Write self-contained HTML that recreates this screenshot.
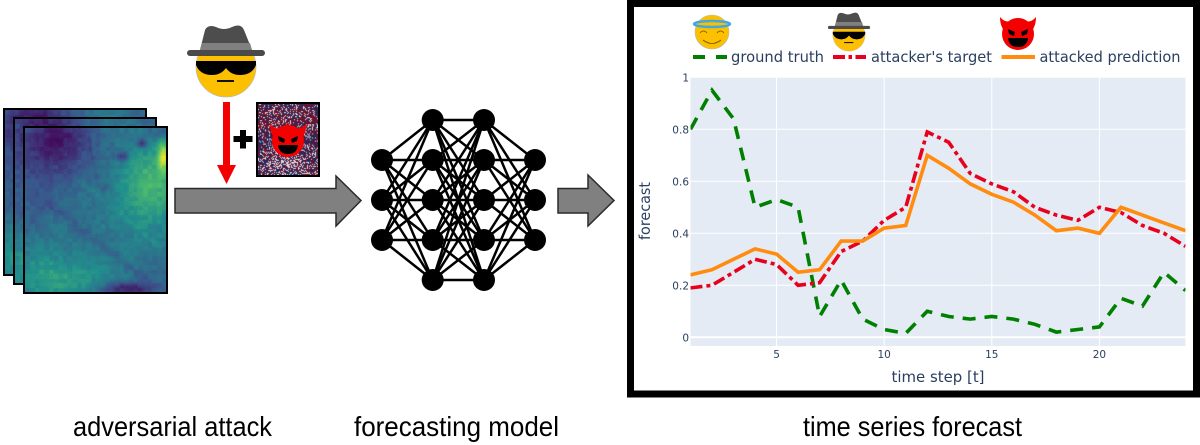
<!DOCTYPE html>
<html lang="en">
<head>
<meta charset="utf-8">
<title>Adversarial attack on time series forecast</title>
<style>
html,body{margin:0;padding:0;background:#fff;}
body{position:relative;width:1200px;height:445px;overflow:hidden;font-family:"Liberation Sans",sans-serif;}
#diagram{position:absolute;left:0;top:0;}
canvas{position:absolute;display:block;box-sizing:border-box;border:2px solid #000;}
</style>
</head>
<body>
<canvas id="map-back" width="140" height="164" style="left:3px;top:108px;width:144px;height:168px"></canvas>
<canvas id="map-mid" width="140" height="164" style="left:13px;top:117px;width:144px;height:168px"></canvas>
<canvas id="map-front" width="140" height="164" style="left:23px;top:126px;width:145px;height:168px"></canvas>
<svg id="diagram" width="1200" height="445" viewBox="0 0 1200 445" xmlns="http://www.w3.org/2000/svg" style="pointer-events:none">
  <defs>
    <g id="agent-shape">
      <circle cx="226" cy="67" r="30" fill="#fdc000" stroke="#b9b9b9" stroke-width=".7"/>
      <path d="M200 50 L205 30 Q208 24 216 27 Q224 31 232 27 Q241 23 244 30 L252 50 Z" fill="#4d4d4d"/>
      <path d="M202 43 L250 43 L252 50 L200 50 Z" fill="#808080"/>
      <rect x="187" y="50" width="78" height="6" rx="3" fill="#4a4a4a"/>
      <path d="M196 61 H256 V65 Q252 75 240 75 Q231 75 226 68 Q221 75 212 75 Q200 75 196 65 Z" fill="#000"/>
      <rect x="217" y="80" width="17" height="2" fill="#111"/>
    </g>
    <g id="devil-shape">
      <path d="M-18 -16 Q-18 -6 -12 0 L12 0 Q18 -6 18 -16 Q13 -10 7 -12 L-7 -12 Q-13 -10 -18 -16 Z" fill="#f40000"/>
      <circle cx="0" cy="1" r="16" fill="#f40000"/>
      <path d="M-10 -4 L-3 -1 L-4 3 L-9 1 Z M10 -4 L3 -1 L4 3 L9 1 Z" fill="#000"/>
      <path d="M-10 5 H10 Q9 14 0 14 Q-9 14 -10 5 Z" fill="#000"/>
    </g>
  </defs>

  <use href="#agent-shape"/>

  <g>
    <rect x="223" y="102" width="7" height="64" fill="#f40000"/>
    <path d="M217 165 H236 L226.500 184 Z" fill="#f40000"/>
  </g>
  <path d="M240 130 h6 v6 h6.500 v6 h-6.500 v6.500 h-6 v-6.500 h-6.500 v-6 h6.500 z" fill="#000"/>

  <g>
    <path d="M175 188.500 H336 V176 L361 200.500 L336 226 V213 H175 Z" fill="#808080" stroke="#2a2a2a" stroke-width="1.500"/>
  </g>
  <g id="network"></g>
  <g>
    <path d="M558 188.500 H588 V175 L614 200.500 L588 226 V213 H558 Z" fill="#808080" stroke="#2a2a2a" stroke-width="1.500"/>
  </g>

  <text x="73" y="436" font-size="28" textLength="199" lengthAdjust="spacingAndGlyphs" fill="#000" font-family="'Liberation Sans',sans-serif">adversarial attack</text>
  <text x="354" y="436" font-size="28" textLength="205" lengthAdjust="spacingAndGlyphs" fill="#000" font-family="'Liberation Sans',sans-serif">forecasting model</text>
  <text x="803" y="436" font-size="28" textLength="219" lengthAdjust="spacingAndGlyphs" fill="#000" font-family="'Liberation Sans',sans-serif">time series forecast</text>

  <rect x="630.500" y="3.500" width="566" height="390.500" fill="#fff" stroke="#000" stroke-width="7"/>

  <g>
    <circle cx="712" cy="32" r="17" fill="#fdc000" stroke="#b9b9b9" stroke-width=".6"/>
    <ellipse cx="712" cy="24" rx="18" ry="3" fill="none" stroke="#3fa9e0" stroke-width="2.500"/>
    <path d="M700 33 Q703.500 29 707 33 M717 33 Q720.500 29 724 33 M703 40 Q712 47 721 40" fill="none" stroke="#6b5200" stroke-width=".8"/>
  </g>
  <use href="#agent-shape" transform="translate(849,35) scale(.54) translate(-226,-67)"/>
  <use href="#devil-shape" transform="translate(1018,33)"/>

  <g id="chart" font-family="'DejaVu Sans',sans-serif"></g>

  <g font-family="'DejaVu Sans',sans-serif" font-size="15.500" fill="#2a3f5f">
    <g>
      <path d="M693 57 H727" stroke="#008000" stroke-width="4" stroke-dasharray="12 11" fill="none"/>
      <text x="731" y="62" textLength="93" lengthAdjust="spacingAndGlyphs">ground truth</text>
    </g>
    <g>
      <path d="M833 57 H866" stroke="#e8001c" stroke-width="4" stroke-dasharray="12 3.500 3.500 3.500" fill="none"/>
      <text x="871" y="62" textLength="121" lengthAdjust="spacingAndGlyphs">attacker's target</text>
    </g>
    <g>
      <path d="M1001.500 57 H1035" stroke="#ff8c0f" stroke-width="4" fill="none"/>
      <text x="1039.500" y="62" textLength="141" lengthAdjust="spacingAndGlyphs">attacked prediction</text>
    </g>
  </g>
</svg>

<canvas id="noise" width="60" height="70" style="left:256px;top:102px;width:64px;height:75px"></canvas>
<svg width="64" height="75" viewBox="256 102 64 75" style="position:absolute;left:256px;top:102px">
  <use href="#devil-shape" transform="translate(288,140)"/>
</svg>

<script>
// ---------- chart data ----------
const timeSteps = [1,2,3,4,5,6,7,8,9,10,11,12,13,14,15,16,17,18,19,20,21,22,23,24];
const groundTruth = [0.80,0.95,0.84,0.50,0.53,0.50,0.08,0.22,0.07,0.03,0.015,0.10,0.08,0.07,0.08,0.07,0.05,0.02,0.03,0.04,0.15,0.12,0.25,0.18];
const attackerTarget = [0.19,0.20,0.25,0.30,0.28,0.20,0.21,0.33,0.37,0.45,0.50,0.79,0.75,0.63,0.59,0.56,0.50,0.47,0.45,0.50,0.48,0.43,0.40,0.35];
const attackedPrediction = [0.24,0.26,0.30,0.34,0.32,0.25,0.26,0.37,0.37,0.42,0.43,0.70,0.65,0.59,0.55,0.52,0.47,0.41,0.42,0.40,0.50,0.47,0.44,0.41];
const xTicks = [5,10,15,20];
const yTicks = [0,0.2,0.4,0.6,0.8,1];
const yTickLabels = ['0','0.2','0.4','0.6','0.8','1'];

const NS = 'http://www.w3.org/2000/svg';
function mk(tag, attrs, parent){
  const el = document.createElementNS(NS, tag);
  for (const k in attrs) el.setAttribute(k, attrs[k]);
  parent.appendChild(el);
  return el;
}
const plot = {left:690.5, right:1185.5, top:77, bottom:346};
const xScale = v => plot.left + (v - 1) * (plot.right - plot.left) / 23;
const yScale = v => 337.3 - v * 260;

const chart = document.getElementById('chart');
const bg = mk('rect', {x:plot.left, y:plot.top, width:plot.right-plot.left, height:plot.bottom-plot.top, fill:'#e4ebf5'}, chart);



xTicks.forEach(t => {
  const g = mk('line', {x1:xScale(t), x2:xScale(t), y1:plot.top, y2:plot.bottom, stroke:'#fff', 'stroke-width':1}, chart);
  
  
  const l = mk('text', {x:xScale(t), y:358, 'text-anchor':'middle', 'font-size':10.5, fill:'#2a3f5f'}, chart);
  l.textContent = t;
  
  
});
yTicks.forEach((t, i) => {
  const g = mk('line', {x1:plot.left, x2:plot.right, y1:yScale(t), y2:yScale(t), stroke:'#fff', 'stroke-width': t === 0 ? 2 : 1}, chart);
  
  
  const l = mk('text', {x:689, y:yScale(t)+4, 'text-anchor':'end', 'font-size':10.5, fill:'#2a3f5f'}, chart);
  l.textContent = yTickLabels[i];
  
  
});

const clip = mk('clipPath', {id:'plot-clip'}, chart);
mk('rect', {x:plot.left, y:plot.top, width:plot.right-plot.left, height:plot.bottom-plot.top}, clip);

function linePath(values){
  return values.map((v, i) => (i ? 'L' : 'M') + xScale(timeSteps[i]).toFixed(2) + ' ' + yScale(v).toFixed(2)).join(' ');
}
const l1 = mk('path', {d:linePath(groundTruth), fill:'none', stroke:'#008000', 'stroke-width':3.6, 'stroke-dasharray':'13 9', 'clip-path':'url(#plot-clip)'}, chart);


const l2 = mk('path', {d:linePath(attackerTarget), fill:'none', stroke:'#e8001c', 'stroke-width':3.6, 'stroke-dasharray':'12 4 4 4', 'clip-path':'url(#plot-clip)'}, chart);


const l3 = mk('path', {d:linePath(attackedPrediction), fill:'none', stroke:'#ff8c0f', 'stroke-width':3.6, 'clip-path':'url(#plot-clip)'}, chart);



const xt = mk('text', {x:938, y:382, 'text-anchor':'middle', 'font-size':15, fill:'#2a3f5f', textLength:93, lengthAdjust:'spacingAndGlyphs'}, chart);
xt.textContent = 'time step [t]';


const yt = mk('text', {x:0, y:0, 'text-anchor':'middle', 'font-size':15, fill:'#2a3f5f', textLength:58, lengthAdjust:'spacingAndGlyphs', transform:'translate(650,211) rotate(-90)'}, chart);
yt.textContent = 'forecast';



// ---------- neural network ----------
const layerX = [382, 432.7, 484, 535];
const layerY = [[160,200,240],[120,160,200,240,280],[120,160,200,240,280],[160,200,240]];
const net = document.getElementById('network');
for (let a = 0; a < 3; a++) {
  layerY[a].forEach(y1 => layerY[a+1].forEach(y2 => {
    const e = mk('line', {x1:layerX[a], y1:y1, x2:layerX[a+1], y2:y2, stroke:'#000', 'stroke-width':2.5}, net);
    
    
  }));
}
layerX.forEach((x, a) => layerY[a].forEach(y => {
  const n = mk('circle', {cx:x, cy:y, r:11, fill:'#000'}, net);
  
  
}));

// ---------- raster textures ----------
let seed = 12345;
function rnd(){ seed = (seed * 1103515245 + 12345) & 0x7fffffff; return seed / 0x7fffffff; }
const viridis = [[68,1,84],[59,82,139],[33,144,140],[94,201,98],[253,231,37]];
function cmap(v){
  v = Math.max(0, Math.min(0.999, v)) * 4;
  const i = Math.floor(v), f = v - i, a = viridis[i], b = viridis[i+1];
  return [a[0]+(b[0]-a[0])*f, a[1]+(b[1]-a[1])*f, a[2]+(b[2]-a[2])*f];
}
const blobs = [
  [.24,.06,.24,.16,-.26],[.08,.18,.26,.26,-.10],[.30,.28,.32,.12,-.05],
  [.98,.17,.04,.09,.42],[.90,.30,.22,.20,.24],[.85,.50,.24,.2,.10],
  [.83,.09,.035,.03,-.26],[.68,.17,.045,.03,-.26],[.57,.36,.03,.025,-.10],
  [.72,.98,.20,.045,-.32],[.95,.88,.12,.07,-.06],[.05,.50,.12,.20,-.06],
  [.30,.93,.34,.14,.17],[.10,.80,.14,.16,.07],[.96,.02,.1,.04,-.1]
];
function gauss(x,y,b){ const dx=(x-b[0])/b[2], dy=(y-b[1])/b[3]; return b[4]*Math.exp(-(dx*dx+dy*dy)); }
function streak(x,y,x0,y0,x1,y1,w,a){
  const vx=x1-x0, vy=y1-y0, t=Math.max(0,Math.min(1,((x-x0)*vx+(y-y0)*vy)/(vx*vx+vy*vy)));
  const dx=x-(x0+t*vx), dy=y-(y0+t*vy);
  return a*Math.exp(-(dx*dx+dy*dy)/(w*w));
}
function drawMap(id, seedValue){
  seed = seedValue;
  const c = document.getElementById(id), ctx = c.getContext('2d');
  const W = c.width, H = c.height, img = ctx.createImageData(W, H);
  const coarse = [];
  for (let i = 0; i < 30*36; i++) coarse.push(rnd() - .5);
  for (let py = 0; py < H; py++) for (let px = 0; px < W; px++) {
    const x = px / W, y = py / H;
    let v = .38;
    blobs.forEach(b => v += gauss(x,y,b));
    v += streak(x,y,.15,.45,.85,.92,.03,-.07);
    v += streak(x,y,.35,.30,.95,.72,.02,.04);
    v += streak(x,y,.45,.05,.5,.3,.012,-.05);
    v += streak(x,y,0,.62,.2,.42,.02,-.04);
    const cx = Math.min(29, Math.floor(x*30)), cy = Math.min(35, Math.floor(y*36));
    v += coarse[cy*30+cx] * .08 + (rnd() - .5) * .035;
    const rgb = cmap(v), k = (py*W+px)*4;
    img.data[k]=rgb[0]; img.data[k+1]=rgb[1]; img.data[k+2]=rgb[2]; img.data[k+3]=255;
  }
  ctx.putImageData(img, 0, 0);
}
drawMap('map-back', 11);
drawMap('map-mid', 222);
drawMap('map-front', 3333);

(function(){
  seed = 777;
  const c = document.getElementById('noise'), ctx = c.getContext('2d');
  const W = c.width, H = c.height, img = ctx.createImageData(W, H);
  for (let py = 0; py < H; py++) for (let px = 0; px < W; px++) {
    const y = py / H, x = px / W;
    const redBias = Math.exp(-Math.pow((y-.22)/.14,2)) * .35;
    const whiteBias = Math.exp(-Math.pow((y-.82)/.18,2) - Math.pow((x-.5)/.35,2)) * .25;
    const r = rnd();
    let col;
    if (r < .18 + whiteBias) col = [232,222,230];
    else if (r < .52 + whiteBias + redBias * .6) col = [122,16,36];
    else col = [24,44,100];
    const k = (py*W+px)*4;
    img.data[k]=col[0]; img.data[k+1]=col[1]; img.data[k+2]=col[2]; img.data[k+3]=255;
  }
  ctx.putImageData(img, 0, 0);
})();
</script>
</body>
</html>
